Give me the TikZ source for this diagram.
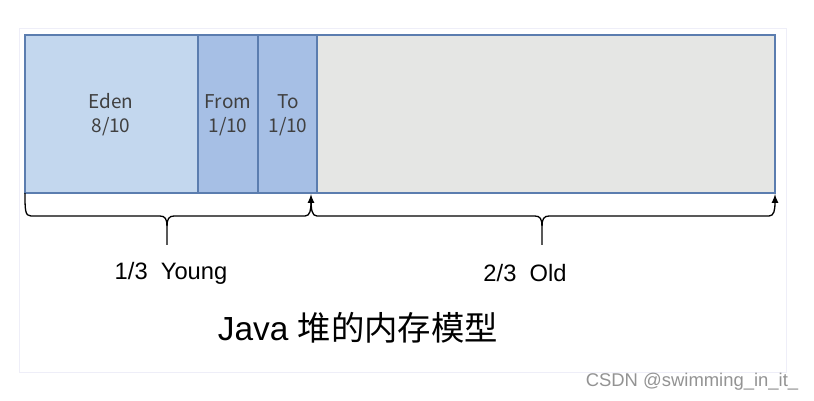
\documentclass[tikz,border=0pt]{standalone}
\usepackage{fontspec}
\setmainfont{Liberation Sans}
\newfontfamily\cjk{Noto Sans CJK SC}
\usetikzlibrary{arrows, positioning}
\definecolor{edencol}{HTML}{C3D7EE}
\definecolor{survcol}{HTML}{A6BFE5}
\definecolor{oldcol}{HTML}{E5E6E4}
\definecolor{edgecol}{HTML}{5B7DAF}
\definecolor{framecol}{HTML}{EEEEF8}
\definecolor{txtcol}{HTML}{404040}
\newcommand{\drawb}{\draw[line width=0.75pt]}
\tikzset{
  area/.style={draw=edgecol, line width=0.6pt},
  areatext/.style={text=txtcol, align=center, font=\cjk\fontsize{10.8}{13.5}\selectfont},
  gentext/.style={font=\fontsize{13.5}{16}\selectfont}
}

\begin{document}
\begin{tikzpicture}[>=latex, x=0.02cm, y=-0.02cm]
\useasboundingbox (0,0) rectangle (814,401);
\draw[framecol] (19,28) rectangle (786,372);
% Vung nho
\filldraw[area, fill=edencol] (25,35) rectangle (198,193);
\filldraw[area, fill=survcol] (198,35) rectangle (258,193);
\filldraw[area, fill=survcol] (258,35) rectangle (317,193);
\filldraw[area, fill=oldcol] (317,35) rectangle (775,193);
\node[areatext] (eden) at (111,115) {Eden\\8/10};
\node[areatext] (from) at (228,115) {From\\1/10};
\node[areatext] (to) at (288,115) {To\\1/10};
% Ngoac young
\drawb (25,193) .. controls (25,210) and (25,216) .. (31,216) -- (160,216) .. controls (165,216) and (167,219) .. (167,226) -- (167,245);
\drawb[->] (167,226) .. controls (167,219) and (169,216) .. (174,216) -- (305,216) .. controls (310,216) and (311,210) .. (311,194);
% Ngoac old
\drawb (311,198) .. controls (311,210) and (312,216) .. (317,216) -- (535,216) .. controls (540,216) and (542,219) .. (542,226) -- (542,245);
\drawb[->] (542,226) .. controls (542,219) and (544,216) .. (549,216) -- (769,216) .. controls (774,216) and (775,210) .. (775,194);
\node[gentext] (young) at (171,273) {1/3\ \ Young};
\node[gentext] (old) at (525,273) {2/3\ \ Old};
\node[font=\fontsize{19}{22}\selectfont] (title) at (358,328) {Java {\cjk 堆的内存模型}};
\node[text=gray!85, font=\fontsize{10.5}{12}\selectfont] (mark) at (692,382) {CSDN @swimming\_in\_it\_};
\end{tikzpicture}
\end{document}
